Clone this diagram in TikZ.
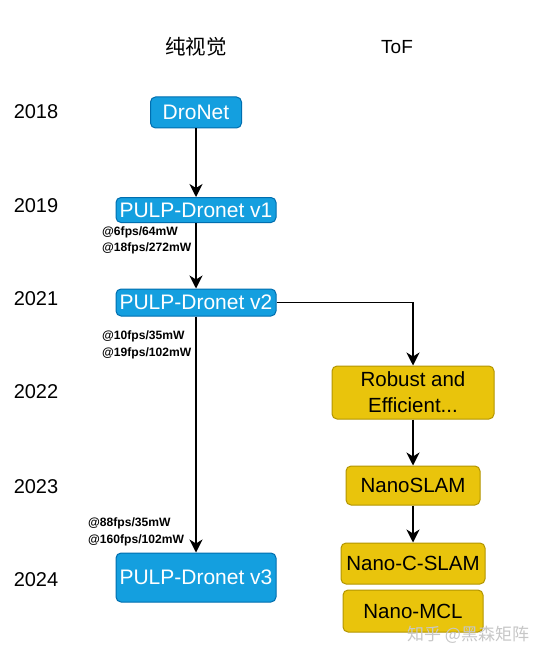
\documentclass[tikz,border=0pt]{standalone}
\usepackage{fontspec}
\setmainfont{Liberation Sans}
\newfontfamily\cjk{Noto Sans CJK SC}
\usetikzlibrary{arrows.meta}
\definecolor{bluefill}{HTML}{149FDF}
\definecolor{bluedraw}{HTML}{006EAF}
\definecolor{yelfill}{HTML}{E9C40C}
\definecolor{yeldraw}{HTML}{B39500}
\tikzset{
  bluebox/.style={draw=bluedraw, fill=bluefill, text=white, line width=1pt, rounded corners=5pt, inner sep=0pt, font=\fontsize{21}{24}\selectfont},
  yelbox/.style={draw=yeldraw, fill=yelfill, text=black, line width=1pt, rounded corners=5pt, inner sep=0pt, font=\fontsize{20.5}{26}\selectfont, align=center},
  yearlbl/.style={font=\fontsize{20}{22}\selectfont, inner sep=0pt},
  perf/.style={font=\fontsize{12.1}{16.5}\selectfont\bfseries, anchor=west, align=left, inner sep=0pt},
  conn/.style={-{Stealth[length=13pt,width=13pt,inset=4pt]}, line width=1.5pt, black},
}
\begin{document}
\begin{tikzpicture}[x=1pt,y=-1pt]
\useasboundingbox[fill=white] (0,0) rectangle (533,658);
% headers
\node[font=\cjk\fontsize{20.5}{22}\selectfont, inner sep=0pt] (hvis) at (196,47) {纯视觉};
\node[font=\fontsize{19}{22}\selectfont, inner sep=0pt] (htof) at (397,47) {ToF};
% years
\node[yearlbl] (y2018) at (36,112) {2018};
\node[yearlbl] (y2019) at (36,206) {2019};
\node[yearlbl] (y2021) at (36,299) {2021};
\node[yearlbl] (y2022) at (36,392) {2022};
\node[yearlbl] (y2023) at (36,487) {2023};
\node[yearlbl] (y2024) at (36,580) {2024};
% blue boxes
\node[bluebox, minimum width=91pt, minimum height=31pt] (dronet) at (196,112.5) {DroNet};
\node[bluebox, minimum width=160pt, minimum height=25pt] (v1) at (196,210) {PULP-Dronet v1};
\node[bluebox, minimum width=160pt, minimum height=27pt] (v2) at (196,302.5) {PULP-Dronet v2};
\node[bluebox, minimum width=160pt, minimum height=49pt] (v3) at (196,577.5) {PULP-Dronet v3};
% yellow boxes
\node[yelbox, minimum width=162pt, minimum height=53pt] (robust) at (413,392.5) {Robust and\\Efficient...};
\node[yelbox, minimum width=134pt, minimum height=39pt] (nslam) at (413,485.5) {NanoSLAM};
\node[yelbox, minimum width=144pt, minimum height=41pt] (ncslam) at (413,563.5) {Nano-C-SLAM};
\node[yelbox, minimum width=140pt, minimum height=42pt] (nmcl) at (413,611) {Nano-MCL};
% performance labels
\node[perf] (p1) at (102,240.5) {@6fps/64mW\\@18fps/272mW};
\node[perf] (p2) at (102,345) {@10fps/35mW\\@19fps/102mW};
\node[perf] (p3) at (88,532) {@88fps/35mW\\@160fps/102mW};
% connectors
\draw[conn] (dronet.south) -- (v1.north);
\draw[conn] (v1.south) -- (v2.north);
\draw[conn] (v2.south) -- (v3.north);
\draw[conn] (v2.east) -| (robust.north);
\draw[conn] (robust.south) -- (nslam.north);
\draw[conn] (nslam.south) -- (ncslam.north);
% watermark
\node[font=\cjk\fontsize{17}{20}\selectfont, text=black!22, anchor=west, inner sep=0pt] (wm) at (407,635) {知乎 @黑森矩阵};
\end{tikzpicture}
\end{document}
